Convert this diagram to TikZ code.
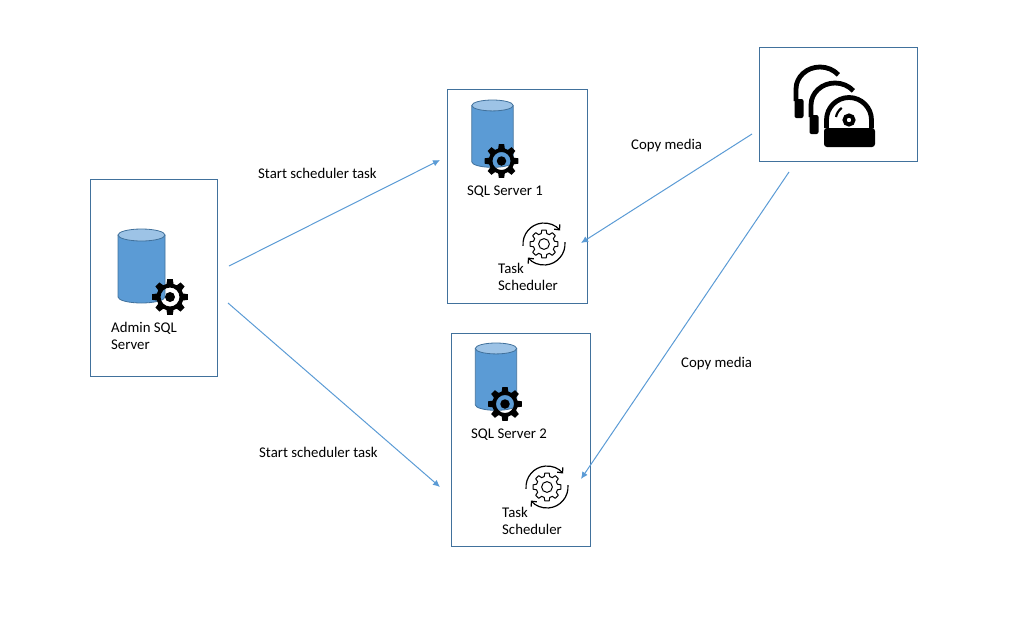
\documentclass[tikz,border=0pt]{standalone}
\usepackage{fontspec}
\setmainfont{Carlito}
\usetikzlibrary{arrows.meta}
\definecolor{boxblue}{HTML}{41719C}
\definecolor{lineblue}{HTML}{5B9BD5}
\definecolor{toplight}{HTML}{9DC3E6}
\tikzstyle{line} = [draw=lineblue, line width=1pt, -{Latex[length=7pt,width=6.5pt]}]
\tikzstyle{serverbox} = [draw=boxblue, line width=0.9pt, inner sep=0pt]
\tikzstyle{label} = [anchor=west, inner sep=0pt, align=left, font=\fontsize{14.8}{17}\selectfont]
\tikzset{
  dbicon/.pic={
    \draw [boxblue, fill=lineblue, line width=0.8pt] (-23.5,-6) -- (-23.5,-68) arc (180:360:23.5 and 6) -- (23.5,-6);
    \draw [boxblue, fill=toplight, line width=0.8pt] (0,-6) ellipse (23.5 and 6);
  },
  gearicon/.pic={
    \fill [black, even odd rule, line join=round] (9:18)
      \foreach \a in {0,45,...,315} {
        -- (\a+9:18) -- (\a+15:13.5) -- (\a+30:13.5) -- (\a+36:18) }
      -- cycle (0,0) circle (9.5) (0,0) circle (5);
  },
  schedicon/.pic={
    \draw [black, line width=1pt, line join=round] (9:14)
      \foreach \a in {0,45,...,315} {
        -- (\a+9:14) -- (\a+15:10.8) -- (\a+30:10.8) -- (\a+36:14) }
      -- cycle;
    \draw [black, line width=1pt] (0,0) circle (5.4);
    \draw [black, line width=1.2pt, -{Straight Barb[length=4pt,width=7.5pt]}] (185:21) arc (185:40:21);
    \draw [black, line width=1.2pt, -{Straight Barb[length=4pt,width=7.5pt]}] (5:21) arc (5:-140:21);
  },
  discback/.pic={
    \draw [black, line width=4.8pt] (-23,-12) -- (-23,0) arc (180:40:24 and 22);
    \fill [black, rounded corners=2pt] (-24.5,-10) -- (-15.5,-10) -- (-15.5,-29) -- (-24.5,-29) -- cycle;
  }
}
\begin{document}
\begin{tikzpicture}[x=1pt, y=1pt]
    \useasboundingbox (0,0) rectangle (1029,-627);
    % boxes
    \node [serverbox, minimum width=127pt, minimum height=197pt] (admin) at (153.5,-278) {};
    \node [serverbox, minimum width=140pt, minimum height=214pt] (serverone) at (517,-196.5) {};
    \node [serverbox, minimum width=139pt, minimum height=213pt] (servertwo) at (520.5,-440) {};
    \node [serverbox, minimum width=158pt, minimum height=114pt] (media) at (838,-104) {};
    % databases
    \pic at (141.5,-229) {dbicon};
    \pic [xscale=0.88, yscale=0.91] at (492.5,-100) {dbicon};
    \pic [xscale=0.88, yscale=0.91] at (496,-343) {dbicon};
    \pic at (170,-297) {gearicon};
    \pic [scale=0.95] at (501.5,-161) {gearicon};
    \pic [scale=0.95] at (505,-404) {gearicon};
    \pic at (544,-244) {schedicon};
    \pic at (547,-487) {schedicon};
    % media icon
    \pic at (819,-89) {discback};
    \pic at (834,-105) {discback};
    \draw [black, line width=4.8pt] (826.5,-128) -- (826.5,-120) arc (180:0:22.5) -- (871.5,-128);
    \fill [black, rounded corners=3pt] (824,-128) -- (875,-128) -- (875,-147) -- (824,-147) -- cycle;
    \draw [black, line width=4pt] (849,-120) circle (4.5);
    \draw [black, line width=2.2pt] (836,-117) arc (170:125:14);
    % labels
    \node [label] (adminlabel) at (111,-336) {Admin SQL\\Server};
    \node [label] (onelabel) at (467,-192) {SQL Server 1};
    \node [label] (twolabel) at (471,-435) {SQL Server 2};
    \node [label] (schedone) at (498,-277) {Task\\Scheduler};
    \node [label] (schedtwo) at (502,-520.5) {Task\\Scheduler};
    \node [label] (startone) at (258,-173.5) {Start scheduler task};
    \node [label] (starttwo) at (259,-452.5) {Start scheduler task};
    \node [label] (copyone) at (631,-146) {Copy media};
    \node [label] (copytwo) at (681,-364) {Copy media};
    % arrows
    \coordinate (startonefrom) at (229,-266);
    \coordinate (startoneto) at (440,-160);
    \coordinate (starttwofrom) at (228,-303);
    \coordinate (starttwoto) at (440,-487);
    \coordinate (copyonefrom) at (752,-134);
    \coordinate (copyoneto) at (581,-243);
    \coordinate (copytwofrom) at (789,-172);
    \coordinate (copytwoto) at (581,-479);
    \path [line] (startonefrom) -- (startoneto);
    \path [line] (starttwofrom) -- (starttwoto);
    \path [line] (copyonefrom) -- (copyoneto);
    \path [line] (copytwofrom) -- (copytwoto);
\end{tikzpicture}
\end{document}
